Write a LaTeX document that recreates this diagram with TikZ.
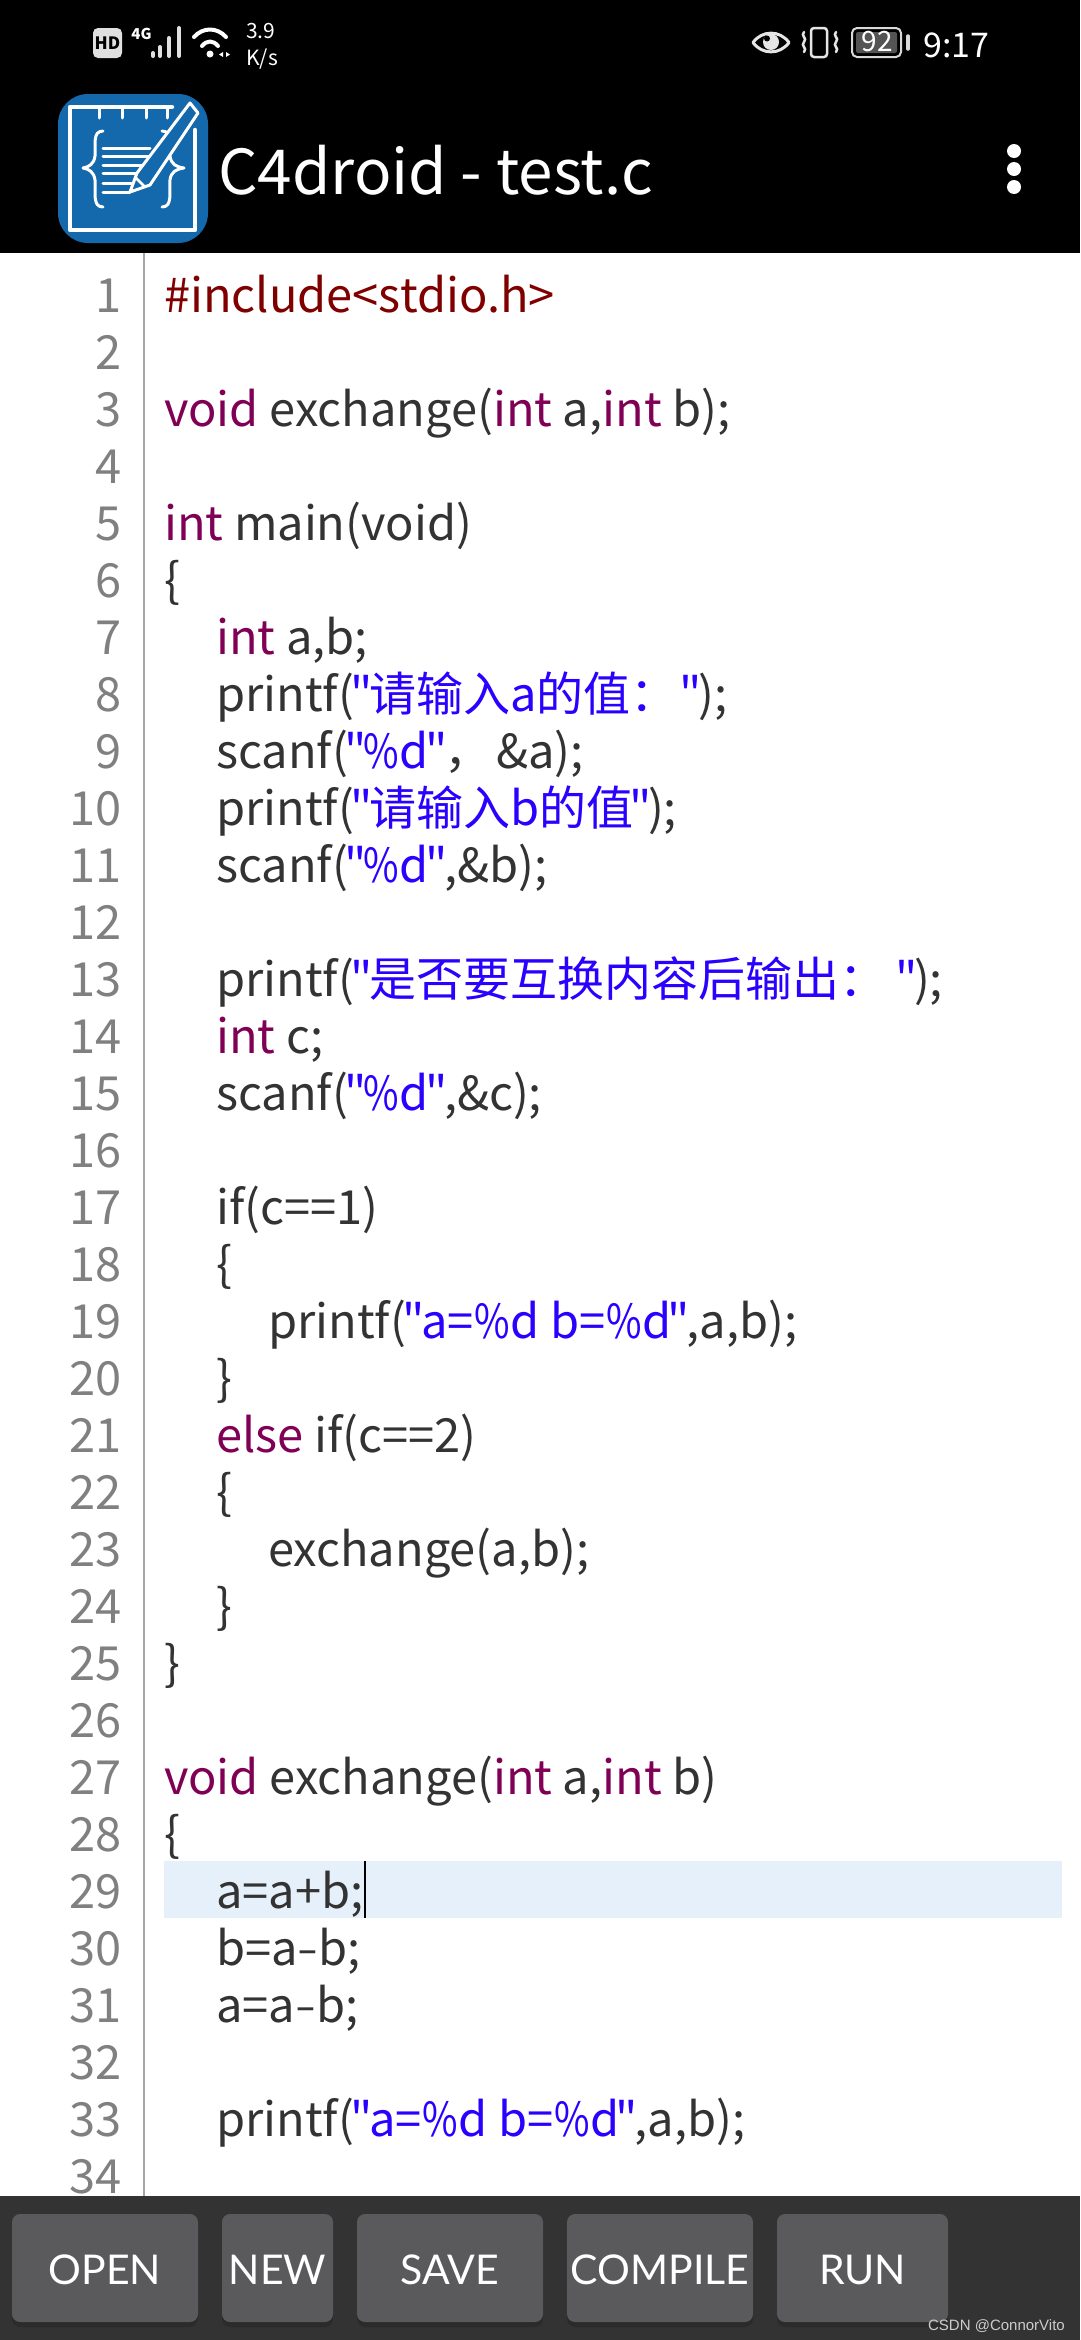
\documentclass[tikz,border=0pt]{standalone}
\usepackage{fontspec}
\setmainfont[Ligatures=TeXOff]{Noto Sans CJK SC}
\newfontfamily\btnfont{Lato}
\newfontfamily\markfont{Liberation Sans}
\definecolor{kwcol}{HTML}{7F0055}
\definecolor{strcol}{HTML}{2A00FF}
\definecolor{inccol}{HTML}{800000}
\definecolor{txtcol}{HTML}{333333}
\definecolor{numcol}{HTML}{808080}
\definecolor{barcol}{HTML}{333333}
\definecolor{btncol}{HTML}{5A5A5C}
\definecolor{hlcol}{HTML}{E6F0FB}
\definecolor{iconcol}{HTML}{1468AC}
\newcommand{\kw}[1]{\textcolor{kwcol}{#1}}
\newcommand{\str}[1]{\textcolor{strcol}{#1}}
\newcommand{\qt}{\makebox[15pt]{"}}
\newcommand{\pct}{\makebox[37pt]{\scalebox{.82}[1]{\%}}}
\newcommand{\dsh}{\makebox[21pt]{\scalebox{.75}[1]{–}}}
\tikzset{
	codeline/.style={anchor=base west,inner sep=0,text=txtcol,font=\fontsize{47}{47}\selectfont},
	numline/.style={anchor=base east,inner sep=0,text=numcol,font=\fontsize{47}{47}\selectfont},
	btn/.style={fill=btncol,rounded corners=8pt},
	btntext/.style={text=white,inner sep=0,font=\btnfont\fontsize{41}{41}\selectfont},
	statustext/.style={text=white,inner sep=0},
	iconline/.style={draw=white,line width=3pt}
}
\begin{document}
\begin{tikzpicture}[x=1pt,y=-1pt,line join=round,line cap=round]
	\useasboundingbox (0,0) rectangle (1080,2340);
	\fill[white] (0,0) rectangle (1080,2340);
	\fill[black] (0,0) rectangle (1080,253);
	% status bar
	\fill[white!88!black,rounded corners=5pt] (93,28) rectangle (122,58);
	\node[inner sep=0,text=black,font=\bfseries\fontsize{17}{17}\selectfont] (hd) at (107.5,43) {HD};
	\node[statustext,font=\bfseries\fontsize{15}{15}\selectfont] (sig) at (141.5,34) {4G};
	\foreach \x/\y in {153/53,160/47,169/38,179/28}{\draw[white!88!black,line width=4pt] (\x,56)--(\x,\y);}
	\draw[white,line width=4pt,line cap=round] (194,37) .. controls (203,27) and (217,27) .. (226,37);
	\draw[white,line width=4pt,line cap=round] (202,46) .. controls (207,40) and (213,40) .. (218,46);
	\fill[white] (210,54) circle (3.5);
	\fill[white] (223,52)--(223,57)--(219,54.5)--cycle (226,52)--(226,57)--(230,54.5)--cycle;
	\node[statustext,anchor=base west,font=\fontsize{21}{21}\selectfont] (speed) at (246,38) {3.9};
	\node[statustext,anchor=base west,font=\fontsize{21}{21}\selectfont] (unit) at (246,65) {K/s};
	\draw[white!90!black,line width=3pt,fill=black] (753,42.5) .. controls (762,30) and (780,30) .. (789,42.5) .. controls (780,55) and (762,55) .. (753,42.5) -- cycle;
	\fill[white!90!black] (771,42) circle (8);
	\fill[black] (767,38.5) circle (3);
	\draw[white!90!black,line width=2.5pt,rounded corners=3pt] (811,28) rectangle (827,57);
	\foreach \x in {804,836}{\draw[white!90!black,line width=2.5pt] (\x,32) .. controls (\x-4,36) and (\x+4,38) .. (\x,42) .. controls (\x-4,46) and (\x+4,48) .. (\x,52);}
	\draw[white!85!black,line width=2pt,rounded corners=5pt] (852,28) rectangle (901,57);
	\fill[white!33!black,rounded corners=2pt] (856,32) rectangle (897,53);
	\node[statustext,font=\fontsize{28}{28}\selectfont] (batt) at (877,42) {92};
	\draw[white!85!black,line width=3.5pt] (908,36)--(908,49);
	\node[statustext,anchor=base west,font=\fontsize{34}{34}\selectfont] (clock) at (923,57) {9:17};
	% app icon
	\fill[iconcol,rounded corners=30pt] (58,94) rectangle (208,243);
	\draw[iconline,line width=4.5pt] (172,107)--(70,107)--(70,230)--(195,230)--(195,130);
	\foreach \x in {99,122,146,167}{\draw[iconline] (\x,107)--(\x,118);}
	\foreach \y/\b in {148/150,156/157,165/150,173/143,183/137,192/130}{\draw[iconline] (103,\y)--(\b,\y);}
	\draw[iconline] (103,131) .. controls (92,131) and (96,146) .. (95,156) .. controls (94,164) and (89,167) .. (83,168) .. controls (89,169) and (94,172) .. (95,180) .. controls (96,192) and (92,207) .. (103,207);
	\draw[iconline] (162,131) .. controls (173,131) and (169,146) .. (170,156) .. controls (171,164) and (176,167) .. (184,168) .. controls (176,169) and (171,172) .. (170,180) .. controls (169,192) and (173,207) .. (162,207);
	\draw[iconline,fill=iconcol] (190,103)--(198,113)--(150,185)--(130,192)--(137,173)--cycle;
	\draw[white,line width=2.5pt] (136,178)--(144,186);
	\node[inner sep=0,anchor=base west,text=white,font=\fontsize{62}{62}\selectfont] (title) at (218,194) {C4droid - test.c};
	\foreach \y in {151,169,187}{\fill[white] (1014,\y) circle (7);}
	% editor
	\fill[hlcol] (164,1861) rectangle (1062,1918);
	\draw[numcol!70!white,line width=2pt,line cap=butt] (144,253)--(144,2196);
	\foreach \i in {1,...,34}{\node[numline] (n\i) at (122,{312+57*(\i-1)}) {\i};}
	\foreach \l/\x/\t in {
		1/164/{\textcolor{inccol}{\#include<stdio.h>}},
		3/164/{\kw{void} exchange(\kw{int} a,\kw{int} b);},
		5/164/{\kw{int} main(void)},
		6/164/{\{},
		7/216/{\kw{int} a,b;},
		8/216/{printf(\str{\qt 请输入a的值：\kern6pt\qt});},
		9/216/{scanf(\str{\qt\pct d\qt}，\kern5pt\&a);},
		10/216/{printf(\str{\qt 请输入b的值\qt});},
		11/216/{scanf(\str{\qt\pct d\qt},\&b);},
		13/216/{printf(\str{\qt 是否要互换内容后输出：\kern13pt\qt});},
		14/216/{\kw{int} c;},
		15/216/{scanf(\str{\qt\pct d\qt},\&c);},
		17/216/{if(c==1)},
		18/216/{\{},
		19/268/{printf(\str{\qt a=\pct d b=\pct d\qt},a,b);},
		20/216/{\}},
		21/216/{\kw{else} if(c==2)},
		22/216/{\{},
		23/268/{exchange(a,b);},
		24/216/{\}},
		25/164/{\}},
		27/164/{\kw{void} exchange(\kw{int} a,\kw{int} b)},
		28/164/{\{},
		29/216/{a=a+b;},
		30/216/{b=a\dsh b;},
		31/216/{a=a\dsh b;},
		33/216/{printf(\str{\qt a=\pct d b=\pct d\qt},a,b);}
	}{\node[codeline] (code\l) at (\x,{312+57*(\l-1)}) {\t};}
	\draw[black,line width=2pt,line cap=butt] (365,1861)--(365,1918);
	% bottom bar
	\fill[barcol] (0,2196) rectangle (1080,2340);
	\foreach \a/\b/\name/\lab in {12/198/open/OPEN,222/333/new/NEW,357/543/save/SAVE,567/753/compile/COMPILE,777/948/run/RUN}{
		\fill[barcol!85!black,rounded corners=8pt] (\a,2218) rectangle (\b,2327);
		\fill[btn] (\a,2214) rectangle (\b,2322);
		\node[btntext] (\name) at ({(\a+\b)/2},2270) {\lab};
	}
	\node[anchor=base east,inner sep=0,text=white!80!black,font=\markfont\fontsize{15}{15}\selectfont] (mark) at (1065,2330) {CSDN @ConnorVito};
\end{tikzpicture}
\end{document}
